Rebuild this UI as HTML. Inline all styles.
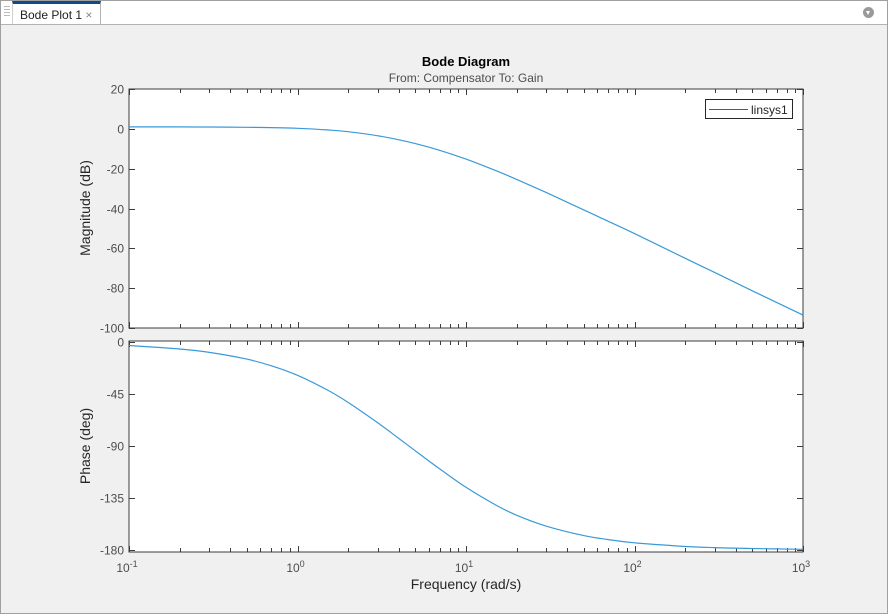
<!DOCTYPE html>
<html><head><meta charset="utf-8"><style>
body{margin:0;width:888px;height:614px;background:#f0f0f0;overflow:hidden;font-family:"Liberation Sans",sans-serif;}
#tabbar{position:absolute;left:0;top:0;width:886px;height:23px;background:#fff;border:1px solid #a0a0a0;border-bottom:1px solid #b4b4b4;}
#tab{position:absolute;left:11px;top:0;width:89px;height:23px;border-top:3px solid #0b4d8a;box-sizing:border-box;border-right:1px solid #b4b4b4;border-left:1px solid #d0d0d0;font-size:12px;color:#222;padding:4px 0 0 7px;}
#frame{position:absolute;left:0;top:24px;width:886px;height:589px;border-left:1px solid #a0a0a0;border-right:1px solid #a0a0a0;border-bottom:1px solid #a0a0a0;}
svg{position:absolute;left:0;top:0;}
</style></head><body>
<div id="tabbar">
<div style="position:absolute;left:3px;top:5px;width:6px;height:12px;background:repeating-linear-gradient(#bbb 0 1px,transparent 1px 3px)"></div>
<div id="tab">Bode Plot 1 <span style="color:#888;font-size:12px">×</span></div>
<div style="position:absolute;left:862px;top:6px;width:11px;height:11px;border-radius:50%;background:#9a9a9a"><div style="position:absolute;left:3px;top:4px;border-left:2.5px solid transparent;border-right:2.5px solid transparent;border-top:4px solid #fff"></div></div>
</div>
<div id="frame"></div>
<svg id="chart" width="888" height="614"></svg>
<script>
const freqs=[0.1,0.2,0.3,0.5,0.7,1,1.5,2,3,4,5,7,10,15,20,30,50,70,100,200,300,500,1000];
const magDb=[0.97,0.95,0.91,0.79,0.61,0.26,-0.53,-1.45,-3.49,-5.5,-7.4,-10.84,-15.2,-20.95,-25.41,-32.04,-40.68,-46.46,-52.6,-65,-72.2,-81.3,-93.5];
const phaseDeg=[-3,-6,-9,-14.8,-20.6,-28.8,-41.4,-52.3,-70,-83.5,-94.1,-109.9,-125.7,-141,-149.9,-159.4,-167.5,-171,-173.7,-176.9,-177.9,-178.7,-179.4];
const magTicks=[20,0,-20,-40,-60,-80,-100];
const phaseTicks=[0,-45,-90,-135,-180];
const xDecades=[-1,0,1,2,3];

const NS="http://www.w3.org/2000/svg";
const svg=document.getElementById('chart');
const L=129,R=803;
const top1=89,bot1=328,top2=341,bot2=552;
const xS=f=>L+(Math.log10(f)+1)/4*(R-L);
const yM=v=>top1+(20-v)/120*(bot1-top1);
const yP=v=>top2+(0.9-v)/182.6*(bot2-top2);
function mk(t,a,p){const e=document.createElementNS(NS,t);for(const k in a)e.setAttribute(k,a[k]);(p||svg).appendChild(e);return e;}
const txtStyle={'font-family':'Liberation Sans, sans-serif','font-size':'12','fill':'#4d4d4d'};

// titles
let t=mk('text',{x:466,y:66,'text-anchor':'middle','font-family':'Liberation Sans, sans-serif','font-size':'13','font-weight':'bold',fill:'#000'});
t.textContent='Bode Diagram';
t=mk('text',{x:466,y:82,'text-anchor':'middle','font-family':'Liberation Sans, sans-serif','font-size':'12',fill:'#4d4d4d'});
t.textContent='From: Compensator  To: Gain';

function axes(top,bot,name){
  const g=mk('g',{});
  
  
  mk('rect',{x:L,y:top,width:R-L,height:bot-top,fill:'#fff',stroke:'#3c3c3c','stroke-width':1},g);
  xDecades.forEach(d=>{
    for(let m=1;m<=9;m++){
      if(d===3&&m>1)break;
      const x=Math.round(xS(m*Math.pow(10,d)))+0.5;
      const len=m===1?6:4;
      mk('line',{x1:x,y1:bot,x2:x,y2:bot-len,stroke:'#3c3c3c'},g);
      mk('line',{x1:x,y1:top,x2:x,y2:top+len,stroke:'#3c3c3c'},g);
    }
  });
  return g;
}
const g1=axes(top1,bot1,'magnitude-axes');
magTicks.forEach(v=>{
  const y=Math.round(yM(v))+0.5;
  mk('line',{x1:L,y1:y,x2:L+6,y2:y,stroke:'#3c3c3c'},g1);
  mk('line',{x1:R,y1:y,x2:R-6,y2:y,stroke:'#3c3c3c'},g1);
  const tx=mk('text',Object.assign({x:L-5,y:y+4,'text-anchor':'end'},txtStyle));
  tx.textContent=v;
});
const g2=axes(top2,bot2,'phase-axes');
phaseTicks.forEach(v=>{
  const y=Math.round(yP(v))+0.5;
  mk('line',{x1:L,y1:y,x2:L+6,y2:y,stroke:'#3c3c3c'},g2);
  mk('line',{x1:R,y1:y,x2:R-6,y2:y,stroke:'#3c3c3c'},g2);
  const tx=mk('text',Object.assign({x:L-5,y:y+4,'text-anchor':'end'},txtStyle));
  tx.textContent=v;
});
xDecades.forEach(d=>{
  const x=xS(Math.pow(10,d));
  const tx=mk('text',Object.assign({x:x-2,y:572,'text-anchor':'middle'},txtStyle));
  
  tx.appendChild(document.createTextNode('10'));
  const s=mk('tspan',{dy:-5,'font-size':'9'},tx);s.textContent=d;
});

// curves (monotone-ish smooth via catmull-rom)
function path(ys,yf){
  const pts=freqs.map((f,i)=>[xS(f),yf(ys[i])]);
  let d='M'+pts[0][0].toFixed(1)+','+pts[0][1].toFixed(1);
  for(let i=0;i<pts.length-1;i++){
    const p0=pts[Math.max(0,i-1)],p1=pts[i],p2=pts[i+1],p3=pts[Math.min(pts.length-1,i+2)];
    const c1=[p1[0]+(p2[0]-p0[0])/6,p1[1]+(p2[1]-p0[1])/6];
    const c2=[p2[0]-(p3[0]-p1[0])/6,p2[1]-(p3[1]-p1[1])/6];
    d+='C'+c1.map(v=>v.toFixed(1))+' '+c2.map(v=>v.toFixed(1))+' '+p2[0].toFixed(1)+','+p2[1].toFixed(1);
  }
  return d;
}
let p=mk('path',{d:path(magDb,yM),fill:'none',stroke:'#3a9ad9','stroke-width':1.2});

p=mk('path',{d:path(phaseDeg,yP),fill:'none',stroke:'#3a9ad9','stroke-width':1.2});


// legend
const lg=mk('g',{});

mk('rect',{x:705.5,y:99.5,width:87,height:19,fill:'#fff',stroke:'#262626'},lg);
mk('line',{x1:709,y1:109.5,x2:748,y2:109.5,stroke:'#0072bd'},lg);
t=mk('text',{x:751,y:114,'font-family':'Liberation Sans, sans-serif','font-size':'12',fill:'#262626'},lg);
t.textContent='linsys1';

// axis labels
t=mk('text',{x:466,y:589,'text-anchor':'middle','font-family':'Liberation Sans, sans-serif','font-size':'14',fill:'#262626'});
t.textContent='Frequency  (rad/s)';
t=mk('text',{x:0,y:0,'text-anchor':'middle','font-family':'Liberation Sans, sans-serif','font-size':'14',fill:'#262626',transform:'translate(90,208) rotate(-90)'});
t.textContent='Magnitude (dB)';
t=mk('text',{x:0,y:0,'text-anchor':'middle','font-family':'Liberation Sans, sans-serif','font-size':'14',fill:'#262626',transform:'translate(90,446) rotate(-90)'});
t.textContent='Phase (deg)';
</script>
</body></html>
